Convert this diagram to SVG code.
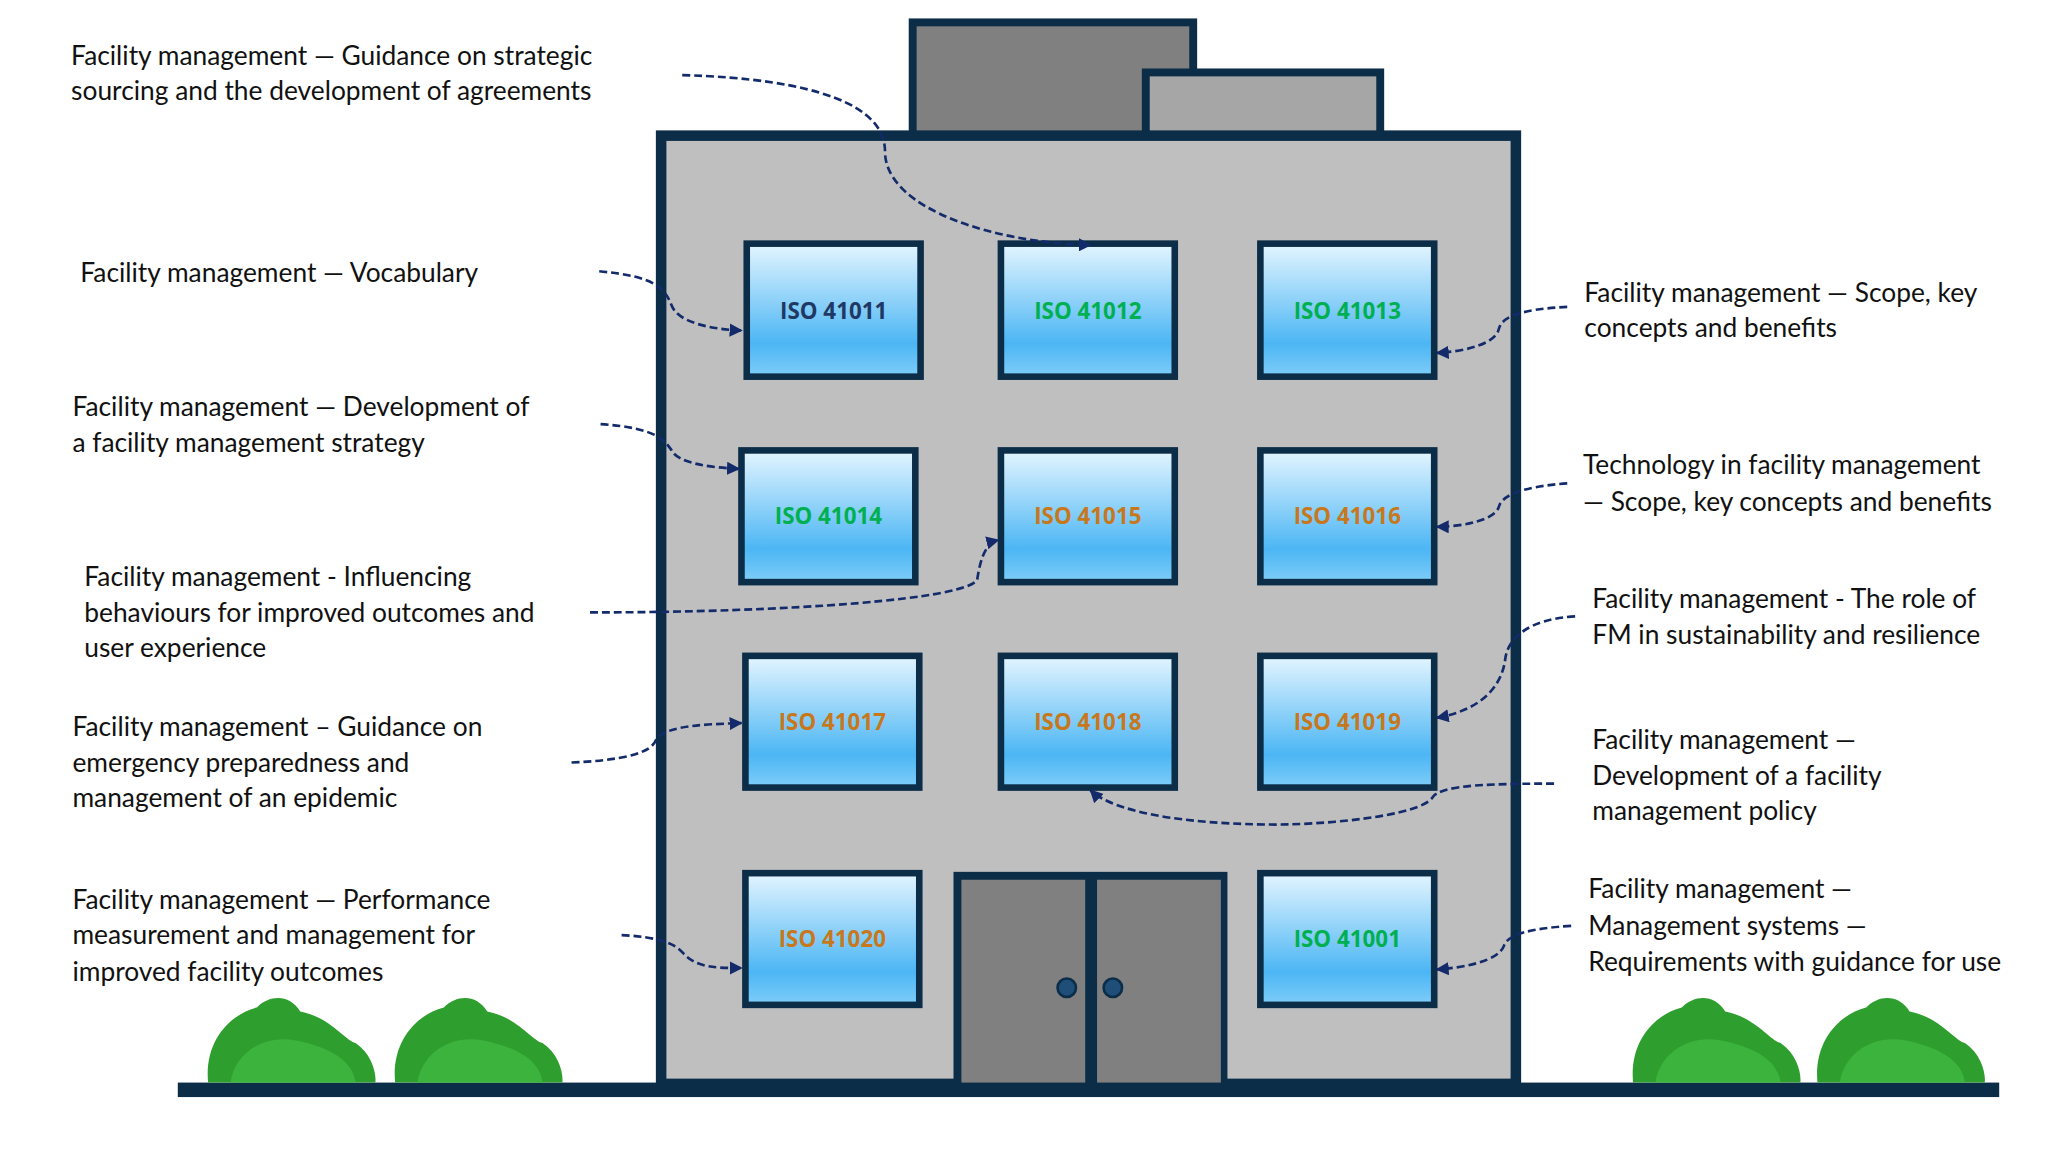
<svg xmlns="http://www.w3.org/2000/svg" width="2048" height="1152" viewBox="0 0 2048 1152">
<defs>
<linearGradient id="win" x1="0" y1="0" x2="0" y2="1"><stop offset="0" stop-color="#e4f5ff"/><stop offset="0.75" stop-color="#4cb6f4"/><stop offset="1" stop-color="#7fcdf8"/></linearGradient>
<marker id="ah" viewBox="0 0 10 10" refX="9" refY="5" markerWidth="5" markerHeight="5" orient="auto"><path d="M0,0L10,5L0,10z" fill="#132a6b"/></marker>
<style>
.t{font-family:Lato,"Noto Sans",sans-serif;font-size:20px;fill:#111}
.w{fill:url(#win);stroke:#0c2d48;stroke-width:5}
.l{font-family:"Open Sans","Noto Sans",sans-serif;font-size:17px;font-weight:bold;text-anchor:middle}
.n{fill:#1f3864}.g{fill:#00b050}.o{fill:#c8781c}
.c{fill:none;stroke:#132a6b;stroke-width:2;stroke-dasharray:6 3;marker-end:url(#ah)}
.b{fill:#2e9e2e}.b2{fill:#3cb33c}
</style>
</defs>
<rect width="2048" height="1152" fill="#fff"/>
<g transform="scale(1.3170)">
<g id="building">
<rect x="693" y="17" width="213" height="86" fill="#808080" stroke="#0c2d48" stroke-width="6"/>
<rect x="870" y="55" width="178" height="48" fill="#a6a6a6" stroke="#0c2d48" stroke-width="6"/>
<rect x="502" y="103" width="649" height="720" fill="#bfbfbf" stroke="#0c2d48" stroke-width="8"/>
<rect x="135" y="822" width="1383" height="11" fill="#0c2d48"/>
</g>
<g id="door">
<rect x="724" y="662" width="208" height="162" fill="#0c2d48"/>
<rect x="730" y="668" width="94" height="154" fill="#808080"/>
<rect x="833" y="668" width="94" height="154" fill="#808080"/>
<circle cx="810" cy="750" r="7" fill="#1f4e79" stroke="#0c2d48" stroke-width="2"/>
<circle cx="845" cy="750" r="7" fill="#1f4e79" stroke="#0c2d48" stroke-width="2"/>
</g>
<g id="bushes">
<path class="b" d="M158,822 C155,790 175,770 195,765 C205,755 220,755 228,768 C250,772 262,790 270,792 C282,800 286,815 285,822Z"/>
<path class="b" d="M300,822 C297,790 317,770 337,765 C347,755 362,755 370,768 C392,772 404,790 412,792 C424,800 428,815 427,822Z"/>
<path class="b" d="M1240,822 C1237,790 1257,770 1277,765 C1287,755 1302,755 1310,768 C1332,772 1344,790 1352,792 C1364,800 1368,815 1367,822Z"/>
<path class="b" d="M1380,822 C1377,790 1397,770 1417,765 C1427,755 1442,755 1450,768 C1472,772 1484,790 1492,792 C1504,800 1508,815 1507,822Z"/>
<path class="b2" d="M175,822 C178,800 200,785 225,790 C250,795 268,805 270,822Z M317,822 C320,800 342,785 367,790 C392,795 410,805 412,822Z M1257,822 C1260,800 1282,785 1307,790 C1332,795 1350,805 1352,822Z M1397,822 C1400,800 1422,785 1447,790 C1472,795 1490,805 1492,822Z"/>
</g>
<g id="w41011"><rect class="w" x="567" y="185" width="132" height="101"/><text class="l n" x="633" y="242">ISO 41011</text></g>
<g id="w41012"><rect class="w" x="760" y="185" width="132" height="101"/><text class="l g" x="826" y="242">ISO 41012</text></g>
<g id="w41013"><rect class="w" x="957" y="185" width="132" height="101"/><text class="l g" x="1023" y="242">ISO 41013</text></g>
<g id="w41014"><rect class="w" x="563" y="342" width="132" height="100"/><text class="l g" x="629" y="398">ISO 41014</text></g>
<g id="w41015"><rect class="w" x="760" y="342" width="132" height="100"/><text class="l o" x="826" y="398">ISO 41015</text></g>
<g id="w41016"><rect class="w" x="957" y="342" width="132" height="100"/><text class="l o" x="1023" y="398">ISO 41016</text></g>
<g id="w41017"><rect class="w" x="566" y="498" width="132" height="100"/><text class="l o" x="632" y="554">ISO 41017</text></g>
<g id="w41018"><rect class="w" x="760" y="498" width="132" height="100"/><text class="l o" x="826" y="554">ISO 41018</text></g>
<g id="w41019"><rect class="w" x="957" y="498" width="132" height="100"/><text class="l o" x="1023" y="554">ISO 41019</text></g>
<g id="w41020"><rect class="w" x="566" y="663" width="132" height="100"/><text class="l o" x="632" y="719">ISO 41020</text></g>
<g id="w41001"><rect class="w" x="957" y="663" width="132" height="100"/><text class="l g" x="1023" y="719">ISO 41001</text></g>
<g id="connectors">
<path class="c" d="M518,57 C620,60 672,80 672,115 C672,160 760,185 828,186"/>
<path class="c" d="M455,206 C500,210 505,220 510,232 C515,245 540,250 563,251"/>
<path class="c" d="M456,322 C500,325 505,335 510,342 C515,352 540,355 561,356"/>
<path class="c" d="M448,465 C600,465 735,455 742,440 C745,420 750,412 758,410"/>
<path class="c" d="M434,579 C480,577 495,570 498,562 C505,550 540,550 563,549"/>
<path class="c" d="M472,710 C510,712 515,720 520,725 C530,735 545,735 563,735"/>
<path class="c" d="M1190,233 C1150,235 1140,242 1138,250 C1135,262 1110,267 1091,268"/>
<path class="c" d="M1190,367 C1150,370 1140,378 1138,385 C1135,395 1110,400 1091,400"/>
<path class="c" d="M1196,468 C1160,470 1145,485 1143,500 C1140,525 1120,540 1091,545"/>
<path class="c" d="M1180,595 C1120,595 1095,597 1088,605 C1080,620 1000,627 960,626 C880,625 840,612 828,600"/>
<path class="c" d="M1193,703 C1160,705 1145,710 1142,718 C1138,730 1110,735 1091,736"/>
</g>
<g id="labels">
<text class="t" x="54" y="49">Facility management — Guidance on strategic</text>
<text class="t" x="54" y="76">sourcing  and the development of agreements</text>
<text class="t" x="61" y="214">Facility management — Vocabulary</text>
<text class="t" x="55" y="316">Facility management — Development of</text>
<text class="t" x="55" y="343">a facility management strategy</text>
<text class="t" x="64" y="445">Facility management - Influencing</text>
<text class="t" x="64" y="472">behaviours for improved outcomes and</text>
<text class="t" x="64" y="499">user experience</text>
<text class="t" x="55" y="559">Facility management – Guidance on</text>
<text class="t" x="55" y="586">emergency preparedness and</text>
<text class="t" x="55" y="613">management of an epidemic</text>
<text class="t" x="55" y="690">Facility management — Performance</text>
<text class="t" x="55" y="717">measurement and management for</text>
<text class="t" x="55" y="745">improved facility outcomes</text>
<text class="t" x="1203" y="229">Facility management — Scope, key</text>
<text class="t" x="1203" y="256">concepts and benefits</text>
<text class="t" x="1202" y="360">Technology in facility management</text>
<text class="t" x="1202" y="388">— Scope, key concepts and benefits</text>
<text class="t" x="1209" y="462">Facility management - The role of</text>
<text class="t" x="1209" y="489">FM in sustainability and resilience</text>
<text class="t" x="1209" y="569">Facility management —</text>
<text class="t" x="1209" y="596">Development of a facility</text>
<text class="t" x="1209" y="623">management policy</text>
<text class="t" x="1206" y="682">Facility management —</text>
<text class="t" x="1206" y="710">Management systems —</text>
<text class="t" x="1206" y="737">Requirements with guidance for use</text>
</g>
</g>
</svg>
